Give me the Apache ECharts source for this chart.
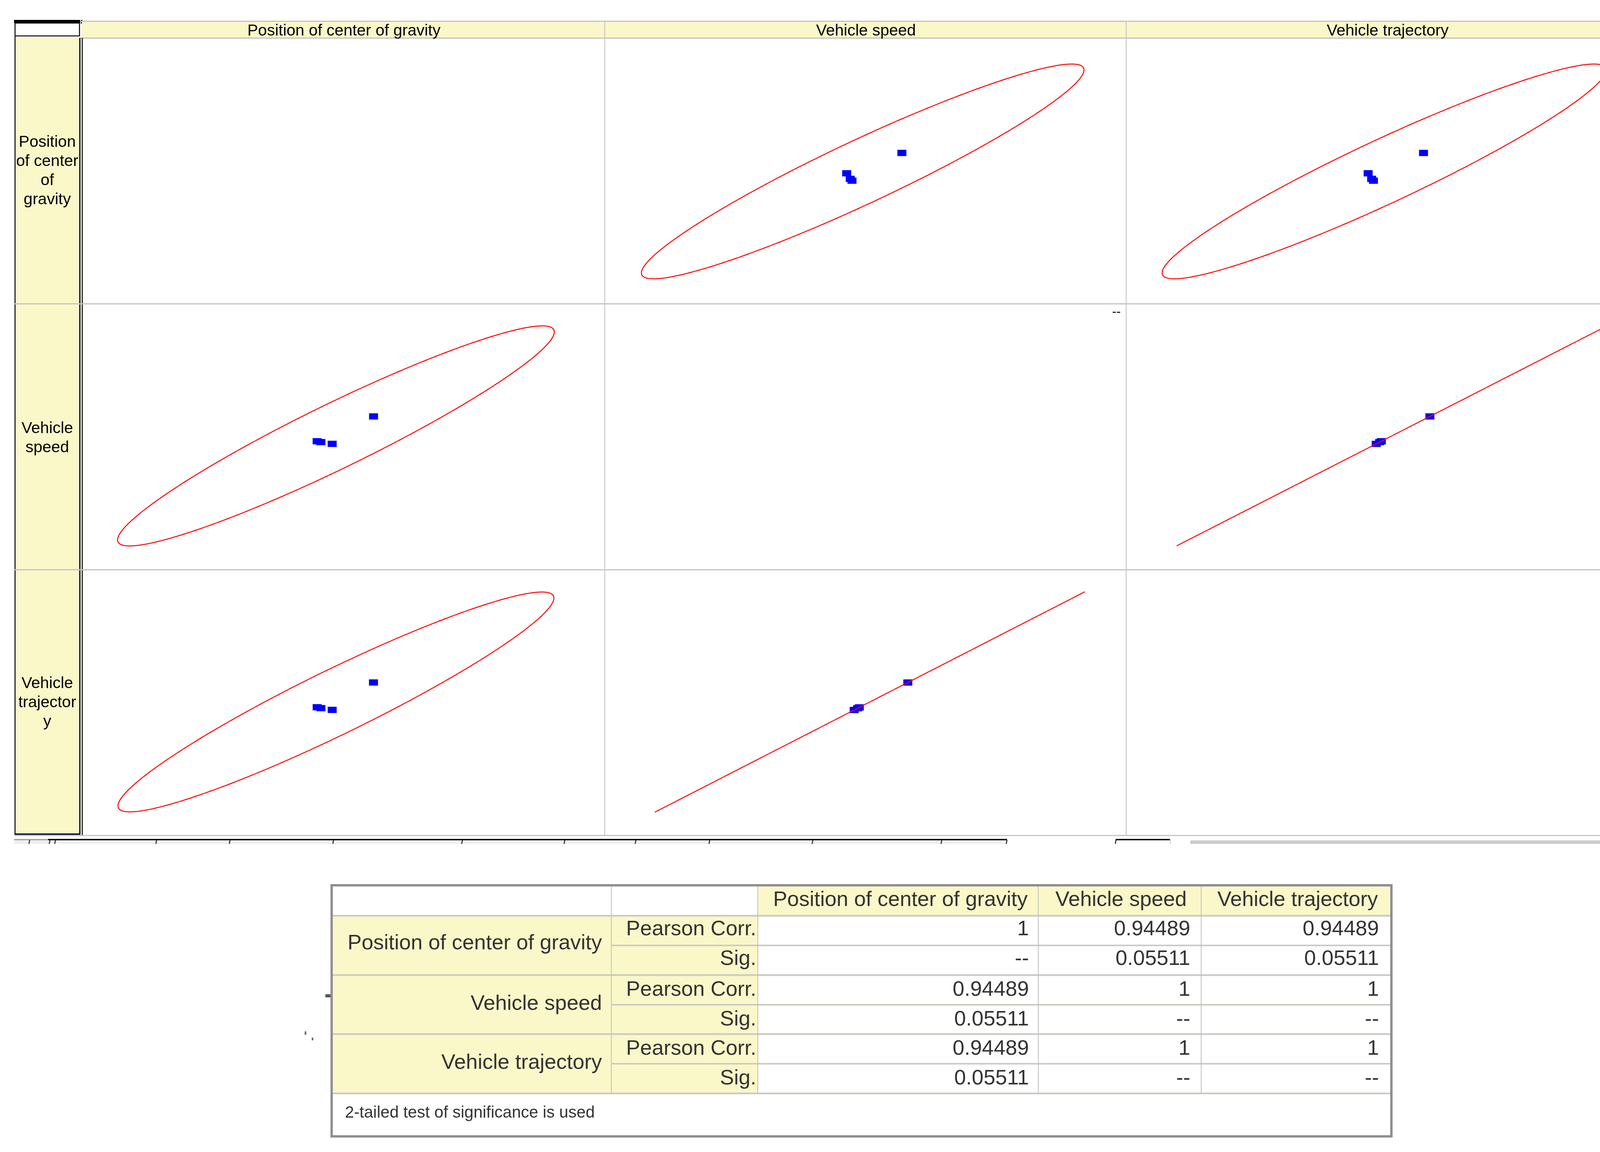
<!DOCTYPE html>
<html>
<head>
<meta charset="utf-8">
<script src="https://cdn.jsdelivr.net/npm/echarts@6/dist/echarts.min.js"></script>
<style>html,body{margin:0;padding:0;background:#ffffff}#chart{width:4277px;height:2950px}</style>
</head>
<body>
<div id="chart"></div>
<script>
// ---------------- data ----------------
const variables = ['Position of center of gravity', 'Vehicle speed', 'Vehicle trajectory'];
const rowLabels = ['Position\nof center\nof\ngravity', 'Vehicle\nspeed', 'Vehicle\ntrajector\ny'];
const positionCG = [1.20, 1.22, 1.28, 1.50];
const vehicleSpeed = [43.0, 42.0, 40.0, 71.3];
const vehicleTrajectory = [4.80, 4.70, 4.50, 7.63];
const statLabels = ['Pearson Corr.', 'Sig.'];
const pearsonRows = [['1', '0.94489', '0.94489'], ['0.94489', '1', '1'], ['0.94489', '1', '1']];
const sigRows = [['--', '0.05511', '0.05511'], ['0.05511', '--', '--'], ['0.05511', '--', '--']];
const footnote = '2-tailed test of significance is used';
const F95_2_2 = 19.0; // F quantile (0.95; 2, n-2) for n = 4

// ---------------- layout ----------------
const FONT = '"Liberation Sans", Arial, sans-serif';
const YELLOW = '#FAF8C9';
const colX = [209, 1548, 2882], colW = [1339, 1334, 1337];
const rowY = [97, 778, 1459], rowH = [681, 681, 679];
// where each cell's 95% ellipse box sits inside the cell (px): [left, right, top, bottom]
const cellBox = {
  '0-1': [94, 1227, 67, 617], '0-2': [93, 1230, 67, 617],
  '1-0': [92, 1210, 56.5, 620], '1-2': [130, 1232, 56.5, 620],
  '2-0': [93, 1209, 57, 620], '2-1': [128, 1229, 56.5, 621]
};

// ---------------- stats ----------------
const vars = [positionCG, vehicleSpeed, vehicleTrajectory];
const mean = a => a.reduce((s, v) => s + v, 0) / a.length;
const sdev = a => { const m = mean(a); return Math.sqrt(a.reduce((s, v) => s + (v - m) * (v - m), 0) / (a.length - 1)); };
const corr = (a, b) => { const ma = mean(a), mb = mean(b); let s = 0; a.forEach((v, i) => { s += (v - ma) * (b[i] - mb); }); return s / (a.length - 1) / (sdev(a) * sdev(b)); };
const nObs = positionCG.length;
const cScale = Math.sqrt(2 * (nObs - 1) * (nObs + 1) / (nObs * (nObs - 2)) * F95_2_2);

function ellipsePoints(xa, ya) {
  const mx = mean(xa), my = mean(ya), sx = sdev(xa), sy = sdev(ya);
  const r = Math.max(-1, Math.min(1, corr(xa, ya)));
  const q = Math.sqrt(Math.max(0, 1 - r * r));
  const pts = [];
  const N = 360;
  for (let i = 0; i <= N; i++) {
    const t = 2 * Math.PI * i / N;
    pts.push([mx + cScale * sx * Math.cos(t), my + cScale * sy * (r * Math.cos(t) + q * Math.sin(t))]);
  }
  return pts;
}

const grids = [], xAxes = [], yAxes = [], series = [];
let k = 0;
for (let i = 0; i < 3; i++) {
  for (let j = 0; j < 3; j++) {
    if (i === j) continue;
    const xa = vars[j], ya = vars[i];
    const box = cellBox[i + '-' + j];
    const mx = mean(xa), my = mean(ya), ex = cScale * sdev(xa), ey = cScale * sdev(ya);
    const kx = (2 * ex) / (box[1] - box[0]);
    const xMin = (mx - ex) - box[0] * kx;
    const ky = (2 * ey) / (box[3] - box[2]);
    const yMax = (my + ey) + box[2] * ky;
    grids.push({ left: colX[j], top: rowY[i], width: colW[j], height: rowH[i], show: false });
    xAxes.push({ type: 'value', gridIndex: k, show: false, min: xMin, max: xMin + colW[j] * kx, splitLine: { show: false } });
    yAxes.push({ type: 'value', gridIndex: k, show: false, min: yMax - rowH[i] * ky, max: yMax, splitLine: { show: false } });
    series.push({
      type: 'scatter', xAxisIndex: k, yAxisIndex: k, symbol: 'rect', symbolSize: [23, 16],
      itemStyle: { color: '#0000FF', opacity: 1 }, z: 2, silent: true,
      data: xa.map((v, idx) => [v, ya[idx]])
    });
    series.push({
      type: 'line', xAxisIndex: k, yAxisIndex: k, symbol: 'none', smooth: false, z: 3, silent: true,
      lineStyle: { color: '#FF0000', width: 2.5 }, data: ellipsePoints(xa, ya)
    });
    k++;
  }
}

// ---------------- graphic helpers ----------------
const g = [];
const rect = (x, y, w, h, fill, stroke, lw, z) => g.push({ type: 'rect', z: z || 1, shape: { x, y, width: w, height: h }, style: { fill: fill || 'none', stroke: stroke || null, lineWidth: lw || 0 }, silent: true });
const line = (x1, y1, x2, y2, color, w, z) => g.push({ type: 'line', z: z || 5, shape: { x1, y1, x2, y2 }, style: { stroke: color, lineWidth: w }, silent: true });
const text = (x, y, s, size, align, color, lh, z) => g.push({ type: 'text', z: z || 6, x, y, silent: true,
  style: { text: s, font: size + 'px ' + FONT, fill: color || '#000', align: align || 'center', verticalAlign: 'middle', lineHeight: lh || size } });

// ---- scatter matrix frame ----
// corner box
rect(36, 51, 169, 8, '#000');
rect(207, 51, 4, 10, '#000');
rect(38.5, 59, 165, 33, '#fff', '#000', 2.5);
// header band
rect(209, 54, 4011, 43, YELLOW);
line(205, 54.5, 4221, 54.5, '#c2c2c2', 3);
line(205, 97.5, 4221, 97.5, '#c2c2c2', 3);
// row label column
rect(38, 97, 166, 2039, YELLOW);
line(38.5, 93, 38.5, 2137, '#000', 2.5);
line(204.5, 97, 204.5, 2137, '#000', 3);
line(210.5, 97, 210.5, 2139, '#000', 2.5);
// row separators
line(37, 778, 4221, 778, '#c2c2c2', 3);
line(37, 1459, 4221, 1459, '#c2c2c2', 3);
line(37, 2136, 206, 2136, '#000030', 3.5);
line(37, 2139.5, 4221, 2139.5, '#c6c6c6', 3);
// column separators
line(1548, 54, 1548, 2139, '#c8c8c8', 2.5);
line(2883, 54, 2883, 2139, '#c8c8c8', 2.5);
line(4220, 53, 4220, 2139, '#c0c0c0', 3);
line(4234.5, 51, 4234.5, 2162, '#d2d2d2', 3.5);
// header texts
variables.forEach((v, j) => text(colX[j] + colW[j] / 2 + 2, 80, v, 41, 'center', '#000'));
// row label texts
const rowLabelY = [438, 1122, 1800];
rowLabels.forEach((v, i) => text(121, rowLabelY[i], v, 41, 'center', '#000', 49));
// stray "--"
text(2858, 800, '--', 33, 'center', '#000');

// ---- bottom strip (sheet tab bar) ----
rect(36, 2151, 2542, 10, '#efefef');
line(36, 2150, 123, 2150, '#9a9a9a', 3);
line(123, 2150, 2578, 2150, '#000', 3.5);
[76, 128, 142, 401, 589, 854, 1184, 1446, 1628, 1817, 2081, 2411, 2578].forEach(x => line(x, 2151, x - 2, 2161, '#222', 2.5));
line(2856, 2150, 2995, 2150, '#000', 3.5);
line(2857, 2151, 2855, 2161, '#222', 2.5);
line(2996, 2149, 2996, 2161, '#cfcfcf', 2.5);
rect(3047, 2152, 1135, 9, '#cccccc');
rect(4200, 2150, 34, 11, '#eeeeee');

// ---- correlation table ----
const tX = [849, 1565, 1940, 2658, 3075, 3562];
const tY = [2267, 2345, 2421, 2497, 2573, 2648, 2724, 2800, 2910];
rect(tX[2], tY[0], tX[5] - tX[2], tY[1] - tY[0], YELLOW);
rect(tX[0], tY[1], tX[2] - tX[0], tY[7] - tY[1], YELLOW);
const LC = '#cbcbc3';
line(tX[0], tY[1], tX[5], tY[1], LC, 4.5);
[tY[2], tY[4], tY[6]].forEach(y => line(tX[1], y, tX[5], y, LC, 4));
[tY[3], tY[5], tY[7]].forEach(y => line(tX[0], y, tX[5], y, LC, 4.5));
[tX[1], tX[2], tX[3], tX[4]].forEach(x => line(x, tY[0], x, tY[7], '#bfbfbf', 2));
rect(tX[0], tY[0], tX[5] - tX[0], tY[8] - tY[0], null, '#8f8f8f', 6, 7);
const TC = '#333333';
const headCx = [2305, 2870, 3322];
variables.forEach((v, j) => text(headCx[j], 2305, v, 54, 'center', TC));
const rowTextY = [2380, 2456, 2535, 2611, 2686, 2762];
const dataRight = [2634, 3047, 3530];
variables.forEach((v, i) => {
  text(1541, (rowTextY[2 * i] + rowTextY[2 * i + 1]) / 2 - 2, v, 54, 'right', TC);
  text(1936, rowTextY[2 * i], statLabels[0], 54, 'right', TC);
  text(1936, rowTextY[2 * i + 1], statLabels[1], 54, 'right', TC);
  for (let j = 0; j < 3; j++) {
    text(dataRight[j], rowTextY[2 * i], pearsonRows[i][j], 54, 'right', TC);
    text(dataRight[j], rowTextY[2 * i + 1], sigRows[i][j], 54, 'right', TC);
  }
});
text(883, 2850, footnote, 42, 'left', TC);
// stray marks left of table
rect(833, 2546, 15, 8, '#555');
rect(780, 2641, 4, 9, '#666');
rect(798, 2657, 4, 7, '#666');

const chart = echarts.init(document.getElementById('chart'), null, { renderer: 'canvas' });
chart.setOption({
  animation: false,
  backgroundColor: '#ffffff',
  grid: grids,
  xAxis: xAxes,
  yAxis: yAxes,
  series: series,
  graphic: { elements: g }
});
</script>
</body>
</html>
